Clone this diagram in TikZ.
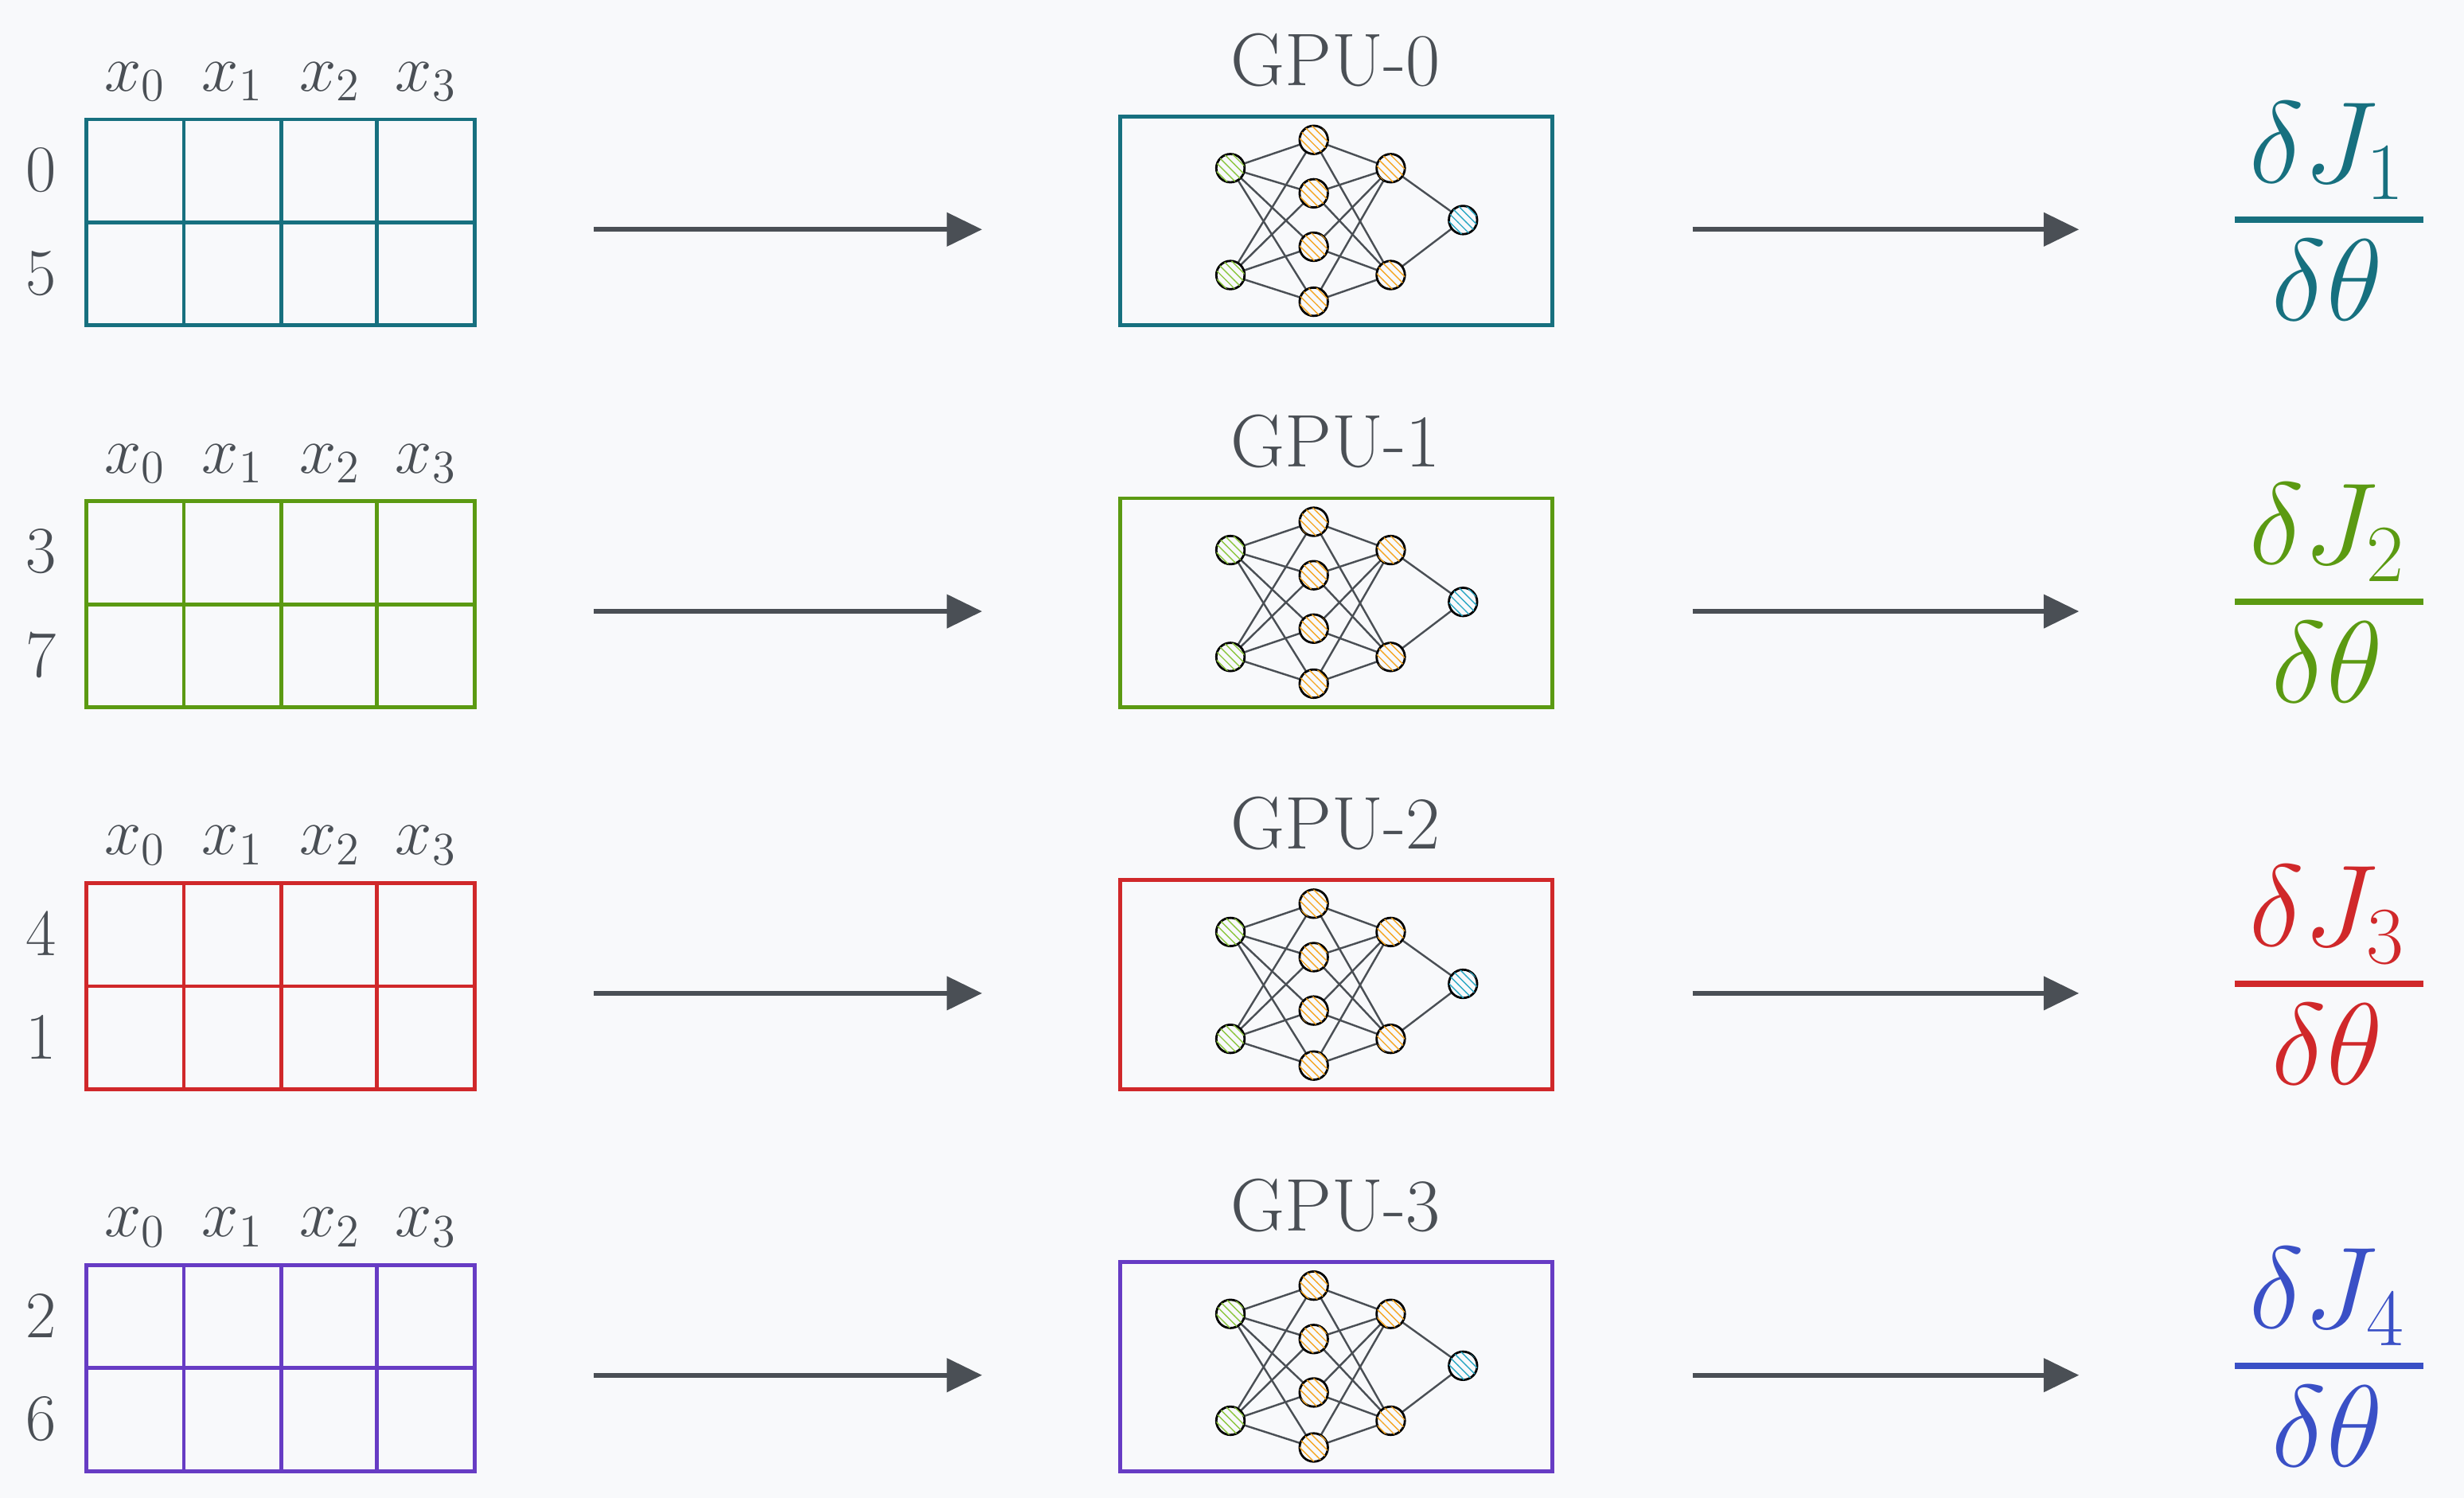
\RequirePackage{fix-cm}
\documentclass[tikz,border=0pt]{standalone}
\usepackage{amsmath}
\usetikzlibrary{arrows.meta,patterns}
\definecolor{bg}{HTML}{F8F9FB}
\definecolor{txt}{HTML}{4A4F55}
\definecolor{cA}{HTML}{17707F}
\definecolor{cB}{HTML}{5B9A12}
\definecolor{cC}{HTML}{D0282A}
\definecolor{cD}{HTML}{673CC4}
\definecolor{fD}{HTML}{3A50C6}
\definecolor{hin}{HTML}{8CC63F}
\definecolor{hhid}{HTML}{F5A623}
\definecolor{hout}{HTML}{2BA7C4}
\tikzset{
 arr/.style={draw=txt,line width=1.8pt,-{Triangle[length=0.45cm,width=0.42cm]}},
 neu/.style={circle,draw=black,line width=0.8pt,minimum size=0.36cm,inner sep=0pt},
 edge/.style={draw=txt,line width=0.7pt},
 lbl/.style={text=txt,font=\fontsize{24}{28}\selectfont},
 gpu/.style={text=txt,font=\fontsize{27}{32}\selectfont},
 frac/.style={font=\fontsize{42}{50}\selectfont,inner sep=0pt},
}
\begin{document}
\begin{tikzpicture}[x=0.02cm,y=-0.02cm]
\fill[bg] (0,0) rectangle (1568,953);
\foreach \i/\c/\f/\ra/\rb/\k in {0/cA/cA/0/5/1,1/cB/cB/3/7/2,2/cC/cC/4/1/3,3/cD/fD/2/6/4}{
 \begin{scope}[yshift={-\i*243*0.02cm}]
  \foreach \xx in {117,179,240} \draw[\c,line width=1.4pt] (\xx,76) -- (\xx,207);
  \draw[\c,line width=1.4pt] (55,141.5) -- (302,141.5);
  \draw[\c,line width=1.4pt] (55,76) rectangle (302,207);
  \foreach \j/\xx in {0/86,1/148,2/210,3/271}
   \node[lbl] (x\i\j) at (\xx,52) {$x_{\j}$};
  \node[lbl] (ra\i) at (26,108) {\ra};
  \node[lbl] (rb\i) at (26,174) {\rb};
  \node[gpu] (g\i) at (850,38) {GPU-\i};
  \node[draw=\c,line width=1.4pt,minimum width=5.5cm,minimum height=2.66cm,inner sep=0pt] (box\i) at (850.5,140.5) {};
  \coordinate (a\i s) at (378,146); \coordinate (a\i e) at (625,146);
  \coordinate (b\i s) at (1077,146); \coordinate (b\i e) at (1323,146);
  \draw[arr] (a\i s) -- (a\i e);
  \draw[arr] (b\i s) -- (b\i e);
  \node[frac,text=\f,anchor=base] (num\i) at (1481,116) {$\delta J_{\k}$};
  \node[frac,text=\f,anchor=base] (den\i) at (1481,204) {$\delta\theta$};
  \draw[\f,line width=2.3pt] (1422,140) -- (1542,140);
  \coordinate (i1) at (783,107); \coordinate (i2) at (783,175);
  \coordinate (h1) at (836,89); \coordinate (h2) at (836,123);
  \coordinate (h3) at (836,157); \coordinate (h4) at (836,192);
  \coordinate (k1) at (885,107); \coordinate (k2) at (885,175);
  \coordinate (o) at (931,140);
  \foreach \p in {i1,i2} \foreach \q in {h1,h2,h3,h4} \draw[edge] (\p) -- (\q);
  \foreach \p in {h1,h2,h3,h4} \foreach \q in {k1,k2} \draw[edge] (\p) -- (\q);
  \foreach \p in {k1,k2} \draw[edge] (\p) -- (o);
  \foreach \p in {i1,i2} \node[neu,fill=bg,postaction={pattern=north west lines,pattern color=hin}] (n\i\p) at (\p) {};
  \foreach \p in {h1,h2,h3,h4,k1,k2} \node[neu,fill=bg,postaction={pattern=north west lines,pattern color=hhid}] (n\i\p) at (\p) {};
  \node[neu,fill=bg,postaction={pattern=north west lines,pattern color=hout}] (n\i o) at (o) {};
 \end{scope}
}
\end{tikzpicture}
\end{document}
